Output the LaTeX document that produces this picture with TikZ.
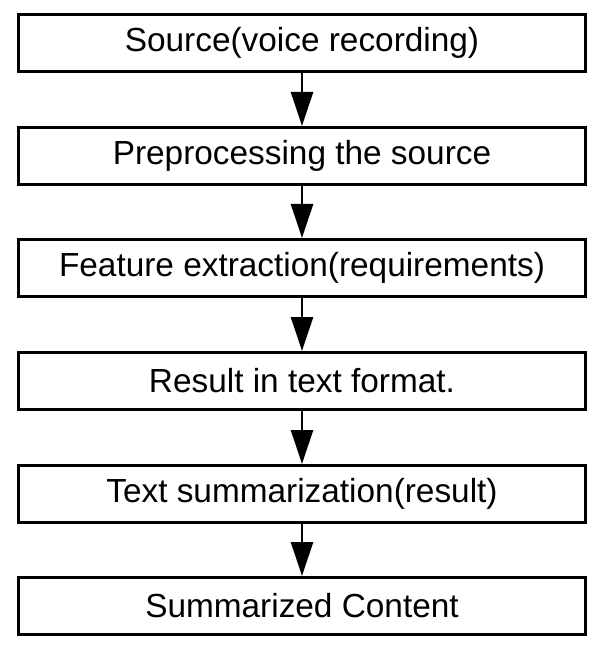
\documentclass[tikz,border=0pt]{standalone}
\usepackage{fontspec}
\setmainfont{Liberation Sans}
\usetikzlibrary{arrows.meta}
\begin{document}
\begin{tikzpicture}[x=1bp,y=-1bp,
  box/.style={draw,line width=3bp,minimum width=567bp,minimum height=57bp,inner sep=0pt,font=\fontsize{33.5}{36}\selectfont},
  conn/.style={line width=2.5bp,-{Triangle[length=34bp,width=22bp]}}]
\useasboundingbox (0,0) rectangle (600,645);
\node[box] (b1) at (302,43) {Source(voice recording)};
\node[box] (b2) at (302,156) {Preprocessing the source};
\node[box] (b3) at (302,268) {Feature extraction(requirements)};
\node[box] (b4) at (302,381) {Result in text format.};
\node[box] (b5) at (302,494) {Text summarization(result)};
\node[box] (b6) at (302,606) {Summarized Content};
\foreach \a/\b in {b1/b2,b2/b3,b3/b4,b4/b5,b5/b6}
  \draw[conn] (\a) -- (\b);
\end{tikzpicture}
\end{document}
